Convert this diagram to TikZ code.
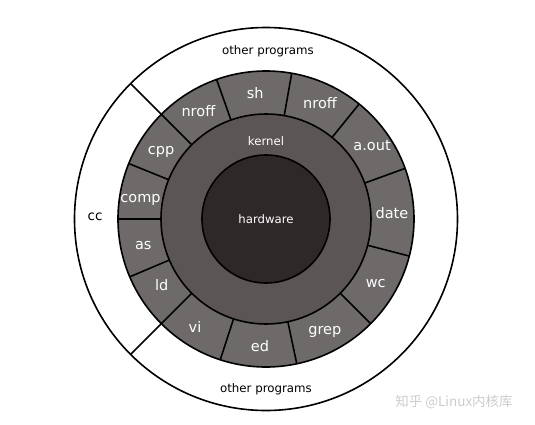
\documentclass[tikz,border=0pt]{standalone}
\usepackage{fontspec}
\setmainfont{DejaVu Sans}
\newfontfamily\cjk{Noto Sans CJK SC}
\definecolor{hwgray}{HTML}{2E2828}
\definecolor{kernelgray}{HTML}{5C5555}
\definecolor{proggray}{HTML}{6E6A6A}

\begin{document}
\begin{tikzpicture}[x=1pt,y=1pt,line width=1.6pt,
	prog/.style={text=white,font=\fontsize{14.5}{17}\selectfont,text height=1.4ex,text depth=0.3ex},
	core/.style={text=white,font=\fontsize{11.7}{14}\selectfont},
	outer/.style={text=black,font=\fontsize{11.8}{14}\selectfont}]
	\useasboundingbox (-266,-205) rectangle (269,219);
	% rings, from the outside in
	\draw[fill=white] (0,0) circle (191.5);
	\draw[fill=proggray] (0,0) circle (148);
	\foreach \a in {109.5,80,51,20,-14.5,-45,-78,-108,-135,-157,180,158,135}
		\draw (\a:105) -- (\a:148);
	\draw (135:148) -- (135:191.5);
	\draw (225:148) -- (225:191.5);
	\draw[fill=kernelgray] (0,0) circle (105);
	\draw[fill=hwgray] (0,0) circle (64);
	% labels
	\foreach \nm/\a/\r/\txt in {sh/95/124/sh, nroffr/64.6/126/nroff, aout/34/128/a.out,
		date/1.4/126/date, wc/-31/128/wc, grep/-62.4/127/grep, ed/-92.7/129.5/ed,
		vi/-122.8/131/vi, ld/-146.8/124.7/ld, as/-167.3/125.8/as, comp/171/127/comp,
		cpp/147.3/124.7/cpp, nroffl/122.6/125.5/nroff}
		\node[prog] (\nm) at (\a:\r) {\txt};
	\node[core] (kernel) at (0,78) {kernel};
	\node[core] (hardware) at (0,0) {hardware};
	\node[outer,font=\fontsize{13.5}{16}\selectfont] (cc) at (-171,2) {cc};
	\node[outer] (othertop) at (2,168) {other programs};
	\node[outer] (otherbottom) at (0,-170) {other programs};
	\node[text=black!20,font=\cjk\fontsize{13.5}{16}\selectfont] (mark) at (188,-183) {知乎 @Linux内核库};
\end{tikzpicture}
\end{document}
